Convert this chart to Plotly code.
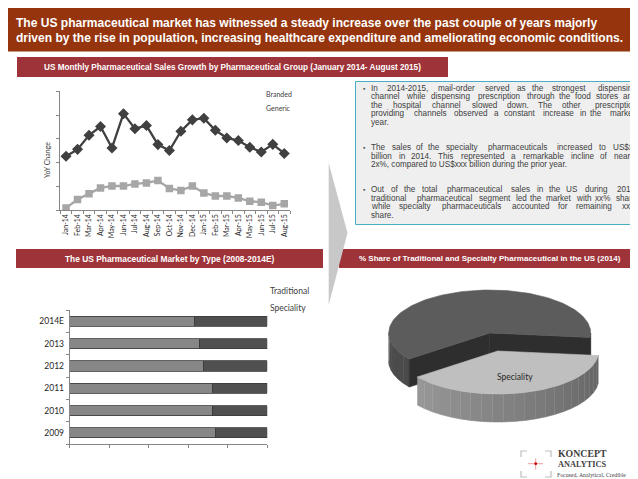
import numpy as np
import plotly.graph_objects as go

W, H = 638, 479

# ---------------- data ----------------
months = ["Jan-14", "Feb-14", "Mar-14", "Apr-14", "May-14", "Jun-14", "Jul-14", "Aug-14",
          "Sep-14", "Oct-14", "Nov-14", "Dec-14", "Jan-15", "Feb-15", "Mar-15", "Apr-15",
          "May-15", "Jun-15", "Jul-15", "Aug-15"]
branded = [2.27, 2.56, 3.15, 3.52, 2.62, 4.06, 3.43, 3.56, 2.76, 2.51, 3.32, 3.80,
           3.87, 3.36, 3.04, 2.93, 2.65, 2.45, 2.77, 2.39]
generic = [0.10, 0.45, 0.70, 0.94, 1.02, 1.02, 1.11, 1.15, 1.25, 0.92, 0.83, 1.02,
           0.73, 0.60, 0.60, 0.52, 0.38, 0.34, 0.20, 0.27]

years = ["2009", "2010", "2011", "2012", "2013", "2014E"]
traditional = [73.7, 72.5, 72.2, 67.5, 65.8, 63.2]
speciality = [26.3, 27.5, 27.8, 32.5, 34.2, 36.8]

pie_labels = ["Traditional", "Speciality"]
pie_values = [62, 38]

title_lines = [
    "The US pharmaceutical market has witnessed a steady increase over the past couple of years majorly",
    "driven by the rise in population, increasing healthcare expenditure and ameliorating economic conditions.",
]
bullets = [
    ["In 2014-2015, mail-order served as the strongest dispensing",
     "channel while dispensing prescription through the food stores and",
     "the hospital channel slowed down. The other prescription",
     "providing channels observed a constant increase in the marked",
     "year."],
    ["The sales of the specialty pharmaceuticals increased to US$xx",
     "billion in 2014. This represented a remarkable incline of nearly",
     "2x%, compared to US$xxx billion during the prior year."],
    ["Out of the total pharmaceutical sales in the US during 2014,",
     "traditional pharmaceutical segment led the market with xx% share",
     "while specialty pharmaceuticals accounted for remaining xx%",
     "share."],
]


def X(px):
    return px / W


def Y(py):
    return 1 - py / H


SANS = "Liberation Sans, Arial, sans-serif"
CAL = "Lato, Carlito, Calibri, sans-serif"
SERIF = "Liberation Serif, DejaVu Serif, serif"

# Arial / Liberation Sans advance widths (1/1000 em)
_AR = {' ': 278, '!': 278, '%': 889, '$': 556, '(': 333, ')': 333, ',': 278, '-': 333, '.': 278,
       ':': 278, ';': 278, '?': 556}
_AR.update({c: 556 for c in "0123456789"})
_AR.update(dict(zip("ABCDEFGHIJKLMNOPQRSTUVWXYZ",
                    [667, 667, 722, 722, 667, 611, 778, 722, 278, 500, 667, 556, 833, 722, 778, 667,
                     778, 722, 667, 611, 722, 667, 944, 667, 667, 611])))
_AR.update(dict(zip("abcdefghijklmnopqrstuvwxyz",
                    [556, 556, 500, 556, 556, 278, 556, 556, 222, 222, 500, 222, 833, 556, 556, 556,
                     556, 333, 500, 278, 556, 500, 722, 500, 500, 500])))
_ARB = {' ': 278, ',': 278, '.': 278, 'T': 611, 'U': 722, 'S': 667}
_ARB.update(dict(zip("abcdefghijklmnopqrstuvwxyz",
                     [556, 611, 556, 611, 556, 333, 611, 611, 278, 278, 556, 278, 889, 611, 611, 611,
                      611, 389, 556, 333, 611, 556, 778, 556, 556, 500])))


def em(s, table):
    return sum(table.get(c, 556) for c in s) / 1000.0


fig = go.Figure()

# ---------------- line chart ----------------
fig.add_trace(go.Scatter(x=months, y=branded, name="Branded", mode="lines+markers",
                         line=dict(color="#404040", width=2.3),
                         marker=dict(symbol="diamond", size=8.5, color="#404040"),
                         xaxis="x", yaxis="y", showlegend=False))
fig.add_trace(go.Scatter(x=months, y=generic, name="Generic", mode="lines+markers",
                         line=dict(color="#A6A6A6", width=2.3),
                         marker=dict(symbol="square", size=7.5, color="#A6A6A6"),
                         xaxis="x", yaxis="y", showlegend=False))

# ---------------- stacked bar chart ----------------
fig.add_trace(go.Bar(y=years, x=traditional, name="Traditional", orientation="h",
                     width=0.45, marker=dict(color="#878787", line=dict(color="#3A3A3A", width=0.8)),
                     xaxis="x2", yaxis="y2", showlegend=False))
fig.add_trace(go.Bar(y=years, x=speciality, name="Speciality", orientation="h",
                     width=0.45, marker=dict(color="#505050", line=dict(color="#3A3A3A", width=0.8)),
                     xaxis="x2", yaxis="y2", showlegend=False))

# ---------------- 3D-looking pie (built from pie_values) ----------------
CX, CY, A, B, D = 481.7, 325.0, 101.0, 43.0, 28.0
START = -6.0
PULL = (8.0, 18.0)

total = float(sum(pie_values))
t_end = START + 360.0 * pie_values[0] / total
slices = [(START, t_end, 0.0, 0.0), (t_end, START + 360.0, PULL[0], PULL[1])]


def pt(theta, dx=0.0, dy=0.0, depth=0.0):
    t = np.radians(theta)
    return CX + dx + A * np.cos(t), CY + dy - B * np.sin(t) + depth


def front_intervals(t0, t1):
    out = []
    for lo, hi in [(-180, 0), (180, 360), (540, 720)]:
        a, b = max(t0, lo), min(t1, hi)
        if b > a:
            out.append((a, b))
    return out


def add_poly(xs, ys, color, name):
    fig.add_trace(go.Scatter(x=list(xs), y=list(ys), mode="lines", fill="toself",
                             fillcolor=color, line=dict(color=color, width=0.6),
                             hoverinfo="skip", name=name, showlegend=False,
                             xaxis="x3", yaxis="y3"))


def add_wall(t0, t1, dx, dy, c_left, c_right, name):
    for a, b in front_intervals(t0, t1):
        n = max(2, int((b - a) / 6))
        edges = np.linspace(a, b, n + 1)
        for i in range(n):
            ts = np.linspace(edges[i], edges[i + 1], 6)
            top = [pt(t, dx, dy) for t in ts]
            bot = [pt(t, dx, dy, D) for t in ts[::-1]]
            f = ((edges[i] + edges[i + 1]) / 2 % 360 - 180) / 180.0
            f = min(max(f, 0), 1)
            c = tuple(int(c_left[k] + (c_right[k] - c_left[k]) * f) for k in range(3))
            col = "rgb(%d,%d,%d)" % c
            add_poly([p[0] for p in top + bot], [p[1] for p in top + bot], col, name)


def add_face(theta, dx, dy, color, name):
    ex, ey = pt(theta, dx, dy)
    ex2, ey2 = pt(theta, dx, dy, D)
    add_poly([CX + dx, ex, ex2, CX + dx, CX + dx], [CY + dy, ey, ey2, CY + dy + D, CY + dy], color, name)


def add_top(t0, t1, dx, dy, color, name):
    ts = np.linspace(t0, t1, 120)
    pts = [(CX + dx, CY + dy)] + [pt(t, dx, dy) for t in ts] + [(CX + dx, CY + dy)]
    add_poly([p[0] for p in pts], [p[1] for p in pts], color, name)


# traditional
t0, t1, dx, dy = slices[0]
add_wall(t0, t1, dx, dy, (78, 78, 78), (60, 60, 60), pie_labels[0])
add_face(t1, dx, dy, "#2E2E2E", pie_labels[0])
add_face(t0, dx, dy, "#2E2E2E", pie_labels[0])
add_top(t0, t1, dx, dy, "#5C5C5C", pie_labels[0])
# speciality
s0, s1, sdx, sdy = slices[1]
add_wall(s0, s1, sdx, sdy, (168, 168, 168), (96, 96, 96), pie_labels[1])
add_top(s0, s1, sdx, sdy, "#BFBFBF", pie_labels[1])
mid = np.radians((s0 + s1) / 2)
lab_x = CX + sdx + 0.62 * A * np.cos(mid)
lab_y = CY + sdy - 0.62 * B * np.sin(mid)

# ---------------- shapes ----------------
shapes = []
shapes.append(dict(type="rect", xref="paper", yref="paper", x0=0, x1=1, y0=Y(43.5), y1=1,
                   fillcolor="#96350D", line=dict(width=0), layer="below"))
for (x0, x1, y0, y1) in [(9, 440, 49, 69), (8, 315, 241, 260), (331, 632, 241, 260)]:
    shapes.append(dict(type="rect", xref="paper", yref="paper", x0=X(x0), x1=X(x1), y0=Y(y1), y1=Y(y0),
                       fillcolor="#9E3339", line=dict(width=0), layer="below"))
# chevron arrow
shapes.append(dict(type="path", xref="paper", yref="paper",
                   path="M %f,%f L %f,%f L %f,%f Z" % (X(320.7), Y(155), X(339.5), Y(225), X(320.7), Y(297)),
                   fillcolor="#C8C8C8", line=dict(width=0), layer="below"))
# text box
shapes.append(dict(type="rect", xref="paper", yref="paper", x0=X(347.5), x1=X(636), y0=Y(216.5), y1=Y(73.5),
                   fillcolor="#EFEFEF", line=dict(color="#4BACC6", width=1), layer="below"))
# logo brackets
bc = "#BDBDBD"
L = 6
for (cx_, cy_, sx, sy) in [(513, 443, 1, 1), (543, 443, -1, 1), (513, 469, 1, -1), (543, 469, -1, -1)]:
    shapes.append(dict(type="path", xref="paper", yref="paper",
                       path="M %f,%f L %f,%f L %f,%f" % (X(cx_ + sx * L), Y(cy_), X(cx_), Y(cy_), X(cx_), Y(cy_ + sy * L)),
                       line=dict(color=bc, width=1.2)))
shapes.append(dict(type="line", xref="paper", yref="paper", x0=X(520), x1=X(535), y0=Y(455.7), y1=Y(455.7),
                   line=dict(color="#E8A0A0", width=1)))
shapes.append(dict(type="line", xref="paper", yref="paper", x0=X(527.7), x1=X(527.7), y0=Y(450.5), y1=Y(461.5),
                   line=dict(color="#E8A0A0", width=1)))
shapes.append(dict(type="circle", xref="paper", yref="paper", x0=X(526.3), x1=X(529.1), y0=Y(457.1), y1=Y(454.3),
                   fillcolor="#D00000", line=dict(width=0)))

# ---------------- annotations ----------------
ann = []


def text(px, py, s, size, color="#404040", family=SANS, xanchor="left", bold=False, ref="paper", **kw):
    if bold:
        s = "<b>%s</b>" % s
    if ref == "paper":
        d = dict(x=X(px), y=Y(py), xref="paper", yref="paper")
    else:
        d = dict(x=px, y=py, xref="x3", yref="y3")
    d.update(text=s, showarrow=False, xanchor=xanchor, yanchor="middle", borderpad=0, borderwidth=0,
             font=dict(size=size, color=color, family=family))
    d.update(kw)
    ann.append(d)


# title: size chosen so the lines span the same width as in the reference
title_size = min(594.0 / em(title_lines[0], _ARB), 620.0 / em(title_lines[1], _ARB)) / 1.02
text(7.5, 15.5, title_lines[0], title_size, "#FFFFFF", SANS, bold=True)
text(7.5, 30, title_lines[1], title_size, "#FFFFFF", SANS, bold=True)
text(224.5, 59.5, "US Monthly Pharmaceutical Sales Growth by Pharmaceutical Group (January 2014- August 2015)",
     8.2, "#FFFFFF", SANS, xanchor="center", bold=True)
text(161.5, 250.5, "The US Pharmaceutical Market by Type (2008-2014E)", 8.4, "#FFFFFF", SANS,
     xanchor="center", bold=True)
text(481.5, 250.5, "% Share of Traditional and Specialty Pharmaceutical in the US (2014)", 8.0, "#FFFFFF",
     SANS, xanchor="center", bold=True)

# line chart texts
text(39, 152, "YoY Change", 7, "#404040", CAL, xanchor="center", textangle=-90)
text(258, 86, "Branded", 7, "#404040", CAL)
text(258, 99.5, "Generic", 7, "#404040", CAL)
# bar chart legend
text(262, 283, "Traditional", 8.5, "#404040", CAL)
text(262, 299.5, "Speciality", 8.5, "#404040", CAL)

# text box bullets, justified like the reference:
# first word pinned left, last word pinned right, middle words centred on their slots
TX0, TX1 = 363.0, 629.0
REND = 1.12   # small-size hinting makes glyphs wider than the nominal metrics
widest = max(em(ln, _AR) for para in bullets for ln in para)
box_size = min(8.3, (TX1 - TX0) / (widest * REND))
line_gap, para_step = 8.6, 25.0
yy = 80.0
for para in bullets:
    text(354.5, yy, "\u25aa", 7, "#595959", SANS)
    for i, ln in enumerate(para):
        words = ln.split(" ")
        if i == len(para) - 1 or len(words) < 2:
            text(TX0, yy, ln, box_size, "#404040", SANS)
        else:
            ww = [em(w, _AR) * box_size * REND for w in words]
            gap = (TX1 - TX0 - sum(ww)) / (len(words) - 1)
            xx = TX0
            for k, (w, wpx) in enumerate(zip(words, ww)):
                if k == 0:
                    text(TX0, yy, w, box_size, "#404040", SANS, xanchor="left")
                elif k == len(words) - 1:
                    text(TX1, yy, w, box_size, "#404040", SANS, xanchor="right")
                else:
                    text(xx + wpx / 2, yy, w, box_size, "#404040", SANS, xanchor="center")
                xx += wpx + gap
        if i < len(para) - 1:
            yy += line_gap
    yy += para_step

# pie label
text(lab_x, lab_y, pie_labels[1], 8.5, "#262626", CAL, xanchor="center", ref="x3")

# logo texts
text(550, 445.7, "KONCEPT", 9.8, "#3F3F3F", SERIF, bold=True)
text(550, 456, "ANALYTICS", 8.3, "#3F3F3F", SERIF, bold=True)
text(549, 466.7, "Focused, Analytical, Credible", 5.8, "#3F3F3F", SERIF)

axis_col = "#868686"
fig.update_layout(
    width=W, height=H, margin=dict(l=0, r=0, t=0, b=0),
    paper_bgcolor="#FFFFFF", plot_bgcolor="rgba(0,0,0,0)",
    barmode="stack", showlegend=False,
    shapes=shapes, annotations=ann,
    xaxis=dict(domain=[X(52.3), X(282)], type="category", range=[-0.5, 19.5],
               showline=True, linecolor=axis_col, linewidth=1, ticks="outside", ticklen=3,
               tickcolor=axis_col, tickson="boundaries", tickangle=-90, showgrid=False,
               tickfont=dict(size=7, color="#262626", family=CAL), zeroline=False, fixedrange=True),
    yaxis=dict(domain=[Y(202.3), Y(83.3)], range=[0, 5], dtick=1, showline=True, linecolor=axis_col,
               ticks="outside", ticklen=3, tickcolor=axis_col, showticklabels=False, showgrid=False,
               zeroline=False),
    xaxis2=dict(domain=[X(61.7), X(259.3)], range=[0, 100], dtick=20, showline=True, linecolor=axis_col,
                ticks="outside", ticklen=3, tickcolor=axis_col, showticklabels=False, showgrid=False,
                zeroline=False, anchor="y2"),
    yaxis2=dict(domain=[Y(436), Y(302.3)], type="category", range=[-0.5, 5.5], showline=True,
                linecolor=axis_col, ticks="outside", ticklen=3, tickcolor=axis_col, tickson="boundaries",
                showgrid=False, tickfont=dict(size=8.5, color="#262626", family=CAL), anchor="x2",
                ticklabelstandoff=3),
    xaxis3=dict(domain=[X(350), X(630)], range=[350, 630], visible=False, anchor="y3"),
    yaxis3=dict(domain=[Y(440), Y(265)], range=[440, 265], visible=False, anchor="x3"),
)

fig.write_html("out.html")
